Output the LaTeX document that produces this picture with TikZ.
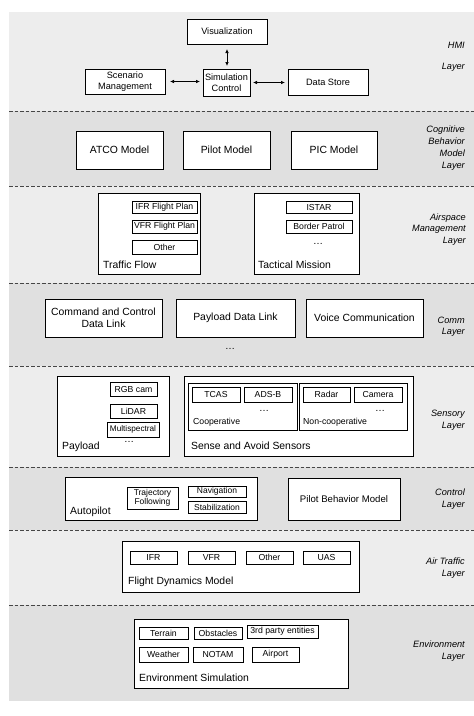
\documentclass[tikz,border=0pt]{standalone}
\usepackage{fontspec}
\setmainfont{Liberation Sans}
\usepackage{tikz}
\usetikzlibrary{arrows.meta, positioning, calc}
\definecolor{layerlight}{RGB}{237, 237, 237}
\definecolor{layerdark}{RGB}{224, 224, 224}
\definecolor{dashgray}{RGB}{70, 70, 70}

\begin{document}
\begin{tikzpicture}[x=1pt, y=1pt,
    box/.style={rectangle, draw, fill=white, line width=0.9pt, inner sep=0pt, outer sep=0pt, align=center, font=\fontsize{9.2}{11}\selectfont},
    bigbox/.style={box, font=\fontsize{10.4}{12}\selectfont},
    subbox/.style={box, line width=0.8pt, font=\fontsize{8.7}{10}\selectfont},
    frame/.style={rectangle, draw, fill=white, line width=0.9pt, inner sep=0pt, outer sep=0pt},
    innerframe/.style={frame, line width=0.8pt},
    caption/.style={anchor=base west, inner sep=0pt, font=\fontsize{10.4}{12}\selectfont},
    smallcaption/.style={anchor=base west, inner sep=0pt, font=\fontsize{8.7}{10}\selectfont},
    dots/.style={inner sep=0pt, font=\fontsize{10}{12}\selectfont},
    layer/.style={anchor=east, align=right, inner sep=0pt, font=\fontsize{9.2}{11.8}\selectfont\itshape},
    dbl/.style={{Latex[length=4pt, width=3.5pt]}-{Latex[length=4pt, width=3.5pt]}, line width=0.7pt}
]
\useasboundingbox (0,0) rectangle (474,-716);

% Layer bands
\fill[layerlight] (9,-12) rectangle (474,-111);
\fill[layerdark] (9,-111) rectangle (474,-186);
\fill[layerlight] (9,-186) rectangle (474,-283);
\fill[layerdark] (9,-283) rectangle (474,-366);
\fill[layerlight] (9,-366) rectangle (474,-467);
\fill[layerdark] (9,-467) rectangle (474,-530);
\fill[layerlight] (9,-530) rectangle (474,-605);
\fill[layerdark] (9,-605) rectangle (474,-701);
\foreach \y in {111,186,283,366,467,530,605}
    \draw[dashgray, line width=1pt, dash pattern=on 3.5pt off 2pt] (9,-\y) -- (474,-\y);

% HMI layer
\node[box, minimum width=80, minimum height=25] (vis) at (227,-31.5) {Visualization};
\node[box, minimum width=80, minimum height=25] (scen) at (125,-81.5) {Scenario\\Management};
\node[box, minimum width=47, minimum height=27] (simctl) at (226.5,-82.5) {Simulation\\Control};
\node[box, minimum width=80, minimum height=26] (store) at (328,-82) {Data Store};
\draw[dbl, shorten <=5pt, shorten >=3pt] (vis.south) -- (vis.south |- simctl.north);
\draw[dbl, shorten <=5pt, shorten >=3pt] (scen.east) -- (scen.east -| simctl.west);
\draw[dbl, shorten <=3pt, shorten >=3pt] (simctl.east) -- (simctl.east -| store.west);
\node[layer] (hmi) at (465,-56.5) {HMI\\[9.5pt]Layer};

% Cognitive behavior model layer
\node[bigbox, minimum width=87, minimum height=38] (atco) at (119.5,-150) {ATCO Model};
\node[bigbox, minimum width=87, minimum height=38] (pilot) at (226.5,-150) {Pilot Model};
\node[bigbox, minimum width=86, minimum height=38] (pic) at (334,-150) {PIC Model};
\node[layer, font=\fontsize{9.2}{12}\selectfont\itshape] (cog) at (465,-148) {Cognitive\\Behavior\\Model\\Layer};

% Airspace management layer
\node[frame, minimum width=102, minimum height=81] (traffic) at (149,-233.5) {};
\node[subbox, minimum width=65, minimum height=12] (ifr) at (164.5,-207) {IFR Flight Plan};
\node[subbox, minimum width=65, minimum height=13] (vfr) at (164.5,-226.5) {VFR Flight Plan};
\node[subbox, minimum width=65, minimum height=14] (otherfp) at (164.5,-247) {Other};
\node[caption] (trafficlbl) at ([shift={(5,6)}]traffic.south west) {Traffic Flow};
\node[frame, minimum width=105, minimum height=81] (tactical) at (306.5,-233.5) {};
\node[subbox, minimum width=66, minimum height=12] (istar) at (319,-207) {ISTAR};
\node[subbox, minimum width=66, minimum height=13] (patrol) at (319,-226.5) {Border Patrol};
\node[dots] (tacdots) at (318,-244) {\dots};
\node[caption] (tacticallbl) at ([shift={(4,6)}]tactical.south west) {Tactical Mission};
\node[layer] (airspace) at (466,-229.5) {Airspace\\Management\\Layer};

% Comm layer
\node[bigbox, minimum width=117, minimum height=38] (c2link) at (103.5,-318) {Command and Control\\Data Link};
\node[bigbox, minimum width=119, minimum height=38] (paylink) at (235.5,-318) {Payload Data Link};
\node[bigbox, minimum width=117, minimum height=38] (voice) at (364.5,-318) {Voice Communication};
\node[dots] (commdots) at (230,-349) {\dots};
\node[layer] (comm) at (465,-326.7) {Comm\\Layer};

% Sensory layer
\node[frame, minimum width=112, minimum height=80] (payload) at (113,-416) {};
\node[subbox, minimum width=47, minimum height=14] (rgb) at (133.5,-389) {RGB cam};
\node[subbox, minimum width=47, minimum height=14] (lidar) at (133.5,-411) {LiDAR};
\node[subbox, minimum width=52, minimum height=15, font=\fontsize{8.2}{10}\selectfont] (multi) at (133,-429.5) {Multispectral};
\node[caption] (payloadlbl) at ([shift={(5,7)}]payload.south west) {Payload};
\node[dots] (paydots) at (129,-442) {\dots};
\node[frame, minimum width=229, minimum height=80] (saa) at (298.5,-416) {};
\node[innerframe, minimum width=109, minimum height=47] (coop) at (242.5,-406.5) {};
\node[subbox, minimum width=48, minimum height=15] (tcas) at (216,-394.5) {TCAS};
\node[subbox, minimum width=48, minimum height=15] (adsb) at (268,-394.5) {ADS-B};
\node[dots] (coopdots) at (264,-411) {\dots};
\node[smallcaption] (cooplbl) at ([shift={(5,6)}]coop.south west) {Cooperative};
\node[innerframe, minimum width=108, minimum height=47] (noncoop) at (353,-406.5) {};
\node[subbox, minimum width=47, minimum height=15] (radar) at (326.5,-394.5) {Radar};
\node[subbox, minimum width=48, minimum height=15] (camera) at (378,-394.5) {Camera};
\node[dots] (noncoopdots) at (380,-411) {\dots};
\node[smallcaption] (noncooplbl) at ([shift={(4,6)}]noncoop.south west) {Non-cooperative};
\node[caption] (saalbl) at ([shift={(7,7)}]saa.south west) {Sense and Avoid Sensors};
\node[layer] (sensory) at (465,-420) {Sensory\\Layer};

% Control layer
\node[frame, minimum width=192, minimum height=43] (autopilot) at (161,-498.5) {};
\node[subbox, minimum width=51, minimum height=22, font=\fontsize{8.5}{9.5}\selectfont] (traj) at (152.5,-498) {Trajectory\\Following};
\node[subbox, minimum width=58, minimum height=11, font=\fontsize{8.5}{10}\selectfont] (nav) at (217,-491.5) {Navigation};
\node[subbox, minimum width=58, minimum height=12, font=\fontsize{8.5}{10}\selectfont] (stab) at (217,-507) {Stabilization};
\node[caption] (autopilotlbl) at ([shift={(5,6)}]autopilot.south west) {Autopilot};
\node[box, minimum width=112, minimum height=42, font=\fontsize{9.6}{12}\selectfont] (pbm) at (344,-499) {Pilot Behavior Model};
\node[layer] (control) at (465,-499) {Control\\Layer};

% Air traffic layer
\node[frame, minimum width=237, minimum height=51] (fdm) at (240.5,-566.5) {};
\node[subbox, minimum width=47, minimum height=13] (ifrac) at (153.5,-557.5) {IFR};
\node[subbox, minimum width=47, minimum height=13] (vfrac) at (211.5,-557.5) {VFR};
\node[subbox, minimum width=47, minimum height=13] (otherac) at (269.5,-557.5) {Other};
\node[subbox, minimum width=47, minimum height=13] (uas) at (326.5,-557.5) {UAS};
\node[caption] (fdmlbl) at ([shift={(6,8)}]fdm.south west) {Flight Dynamics Model};
\node[layer] (airtraffic) at (465,-568) {Air Traffic\\Layer};

% Environment layer
\node[frame, minimum width=214, minimum height=69] (envsim) at (241,-653.5) {};
\node[subbox, minimum width=49, minimum height=12] (terrain) at (163.5,-633) {Terrain};
\node[subbox, minimum width=48, minimum height=12] (obst) at (218,-633) {Obstacles};
\node[subbox, minimum width=71, minimum height=13] (third) at (282.5,-631.5) {3rd party entities};
\node[subbox, minimum width=49, minimum height=15] (weather) at (163.5,-654.5) {Weather};
\node[subbox, minimum width=50, minimum height=15] (notam) at (218,-654.5) {NOTAM};
\node[subbox, minimum width=47, minimum height=15] (airport) at (275.5,-654.5) {Airport};
\node[caption] (envlbl) at ([shift={(5,7)}]envsim.south west) {Environment Simulation};
\node[layer] (environment) at (465,-651) {Environment\\Layer};
\end{tikzpicture}
\end{document}
